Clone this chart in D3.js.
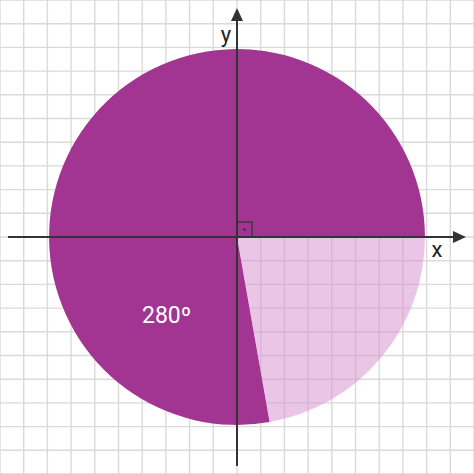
<!DOCTYPE html>
<meta charset="utf-8">
<title>280 degrees</title>
<body style="margin:0;background:#fff">
<svg id="chart" width="474" height="474"></svg>
<script src="https://d3js.org/d3.v7.min.js"></script>
<script>
// angles in degrees, counter-clockwise from the positive x axis
var sectorNames = ["angle", "rest"];
var sectorStart = [0, 280];
var sectorEnd = [280, 360];
var sectorLabels = ["280º", ""];
var axisNames = ["x", "y"];

var width = 474, height = 474;
var svg = d3.select("#chart");

// graph paper: 20 cells each way, origin in the middle
var x = d3.scaleLinear().domain([-10, 10]).range([0, width]);
var y = d3.scaleLinear().domain([-10, 10]).range([height, 0]);
var cx = x(0), cy = y(0);
var r = x(7.93) - x(0);

var grid = svg.append("g").attr("stroke", "#dadada").attr("stroke-width", 1.4);
grid.selectAll(".v").data(x.ticks(20)).enter().append("line")
  .attr("x1", d => x(d)).attr("x2", d => x(d)).attr("y1", 0).attr("y2", height);
grid.selectAll(".h").data(y.ticks(20)).enter().append("line")
  .attr("y1", d => y(d)).attr("y2", d => y(d)).attr("x1", 0).attr("x2", width);

// degrees -> d3 arc angle (clockwise from 12 o'clock)
var ang = d3.scaleLinear().domain([0, 360]).range([Math.PI / 2, Math.PI / 2 - 2 * Math.PI]);
var arc = d3.arc().innerRadius(0).outerRadius(r);
var colors = {angle: "#a13591", rest: "#d690ce"};
var opac = {angle: 1, rest: 0.52};

var sectors = sectorNames.map(function(n, i) {
  return {name: n, start: sectorStart[i], end: sectorEnd[i], label: sectorLabels[i]};
});

var g = svg.append("g").attr("transform", "translate(" + cx + "," + cy + ")");
g.selectAll("path").data(sectors).enter().append("path")
  .attr("d", d => arc({startAngle: ang(d.end), endAngle: ang(d.start)}))
  .attr("fill", d => colors[d.name])
  .attr("fill-opacity", d => opac[d.name]);

// label inside the big sector
g.selectAll(".lab").data(sectors.filter(d => d.label)).enter().append("text")
  .attr("x", d => Math.cos(228 * Math.PI / 180) * r * 0.56)
  .attr("y", d => -Math.sin(228 * Math.PI / 180) * r * 0.56 + 8)
  .attr("text-anchor", "middle")
  .attr("fill", "#fff")
  .style("font-family", "Roboto, sans-serif")
  .style("font-size", "23px")
  .text(d => d.label);

// axes with arrows
var ax = svg.append("g").attr("stroke", "#333").attr("stroke-width", 2);
ax.append("line").attr("x1", 8).attr("x2", width - 12).attr("y1", cy).attr("y2", cy);
ax.append("line").attr("x1", cx).attr("x2", cx).attr("y1", 12).attr("y2", height - 8);
svg.append("path").attr("fill", "#333")
  .attr("d", "M" + (width - 8) + "," + cy + "l-13,-6l0,12z");
svg.append("path").attr("fill", "#333")
  .attr("d", "M" + cx + ",8l-6,13l12,0z");

// right angle mark
svg.append("rect").attr("x", cx).attr("y", cy - 15).attr("width", 15).attr("height", 15)
  .attr("fill", "none").attr("stroke", "#333").attr("stroke-width", 1.2);
svg.append("circle").attr("cx", cx + 7.5).attr("cy", cy - 7.5).attr("r", 1.3).attr("fill", "#333");

// axis names
svg.append("text").attr("x", width - 37).attr("y", cy + 20)
  .attr("text-anchor", "middle").attr("fill", "#222")
  .style("font-family", "Roboto, sans-serif").style("font-size", "22px")
  .text(axisNames[0]);
svg.append("text").attr("x", cx - 11).attr("y", 42)
  .attr("text-anchor", "middle").attr("fill", "#222")
  .style("font-family", "Roboto, sans-serif").style("font-size", "22px")
  .text(axisNames[1]);
</script>
</body>
